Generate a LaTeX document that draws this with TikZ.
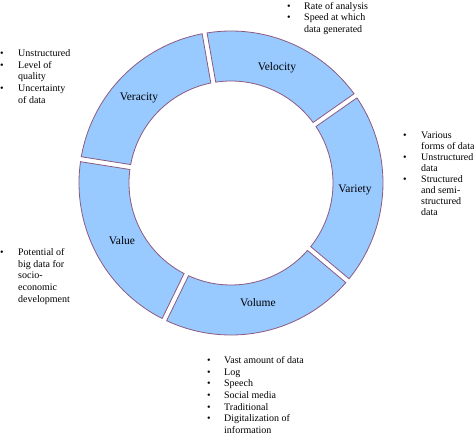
\documentclass[tikz,border=0pt]{standalone}
\usepackage{fontspec}
\setmainfont{Liberation Serif}
\definecolor{segfill}{RGB}{153,202,255}
\definecolor{segline}{RGB}{140,90,128}
\begin{document}
\begin{tikzpicture}[x=1pt,y=1pt,
  seg/.style={fill=segfill,draw=segline,line width=0.8pt},
  seglabel/.style={font=\fontsize{11.5}{13}\selectfont,inner sep=0pt},
  blist/.style={font=\fontsize{10}{11.6}\selectfont,align=left,anchor=north west,inner sep=0pt}]
\useasboundingbox (-231,-253) rectangle (243,183);
\def\Ro{152}\def\Ri{102}
\def\dO{0.94}\def\dI{1.4}
% segments: start angle, end angle
\foreach \a/\b in {35/100, 100/171, 171/244, 244/320, 320/395}{
  \draw[seg] (\a+\dO:\Ro) arc[start angle=\a+\dO, end angle=\b-\dO, radius=\Ro]
    -- (\b-\dI:\Ri) arc[start angle=\b-\dI, end angle=\a+\dI, radius=\Ri] -- cycle;
}
\node[seglabel] (velocity) at (46,115) {Velocity};
\node[seglabel] (veracity) at (-92,85) {Veracity};
\node[seglabel] (variety) at (124,-7) {Variety};
\node[seglabel] (value) at (-109,-58) {Value};
\node[seglabel] (volume) at (27,-120) {Volume};
\node[blist] (lvel) at (56,182.1) {\strut\makebox[17pt][l]{\textbullet}Rate of analysis\\
  \makebox[17pt][l]{\textbullet}Speed at which\\ \hspace*{17pt}data generated};
\node[blist] (lver) at (-231,134.6) {\strut\makebox[18pt][l]{\textbullet}Unstructured\\
  \makebox[18pt][l]{\textbullet}Level of\\ \hspace*{18pt}quality\\
  \makebox[18pt][l]{\textbullet}Uncertainty\\ \hspace*{18pt}of data};
\node[blist,font=\fontsize{10}{11}\selectfont] (lvar) at (172,52.2) {\strut\makebox[18pt][l]{\textbullet}Various\\
  \hspace*{18pt}forms of data\\
  \makebox[18pt][l]{\textbullet}Unstructured\\ \hspace*{18pt}data\\
  \makebox[18pt][l]{\textbullet}Structured\\ \hspace*{18pt}and semi-\\
  \hspace*{18pt}structured\\ \hspace*{18pt}data};
\node[blist] (lval) at (-231,-64.4) {\strut\makebox[18pt][l]{\textbullet}Potential of\\
  \hspace*{18pt}big data for\\ \hspace*{18pt}socio-\\ \hspace*{18pt}economic\\
  \hspace*{18pt}development};
\node[blist] (lvol) at (-24,-172.4) {\strut\makebox[17pt][l]{\textbullet}Vast amount of data\\
  \makebox[17pt][l]{\textbullet}Log\\
  \makebox[17pt][l]{\textbullet}Speech\\
  \makebox[17pt][l]{\textbullet}Social media\\
  \makebox[17pt][l]{\textbullet}Traditional\\
  \makebox[17pt][l]{\textbullet}Digitalization of\\ \hspace*{17pt}information};
\end{tikzpicture}
\end{document}
